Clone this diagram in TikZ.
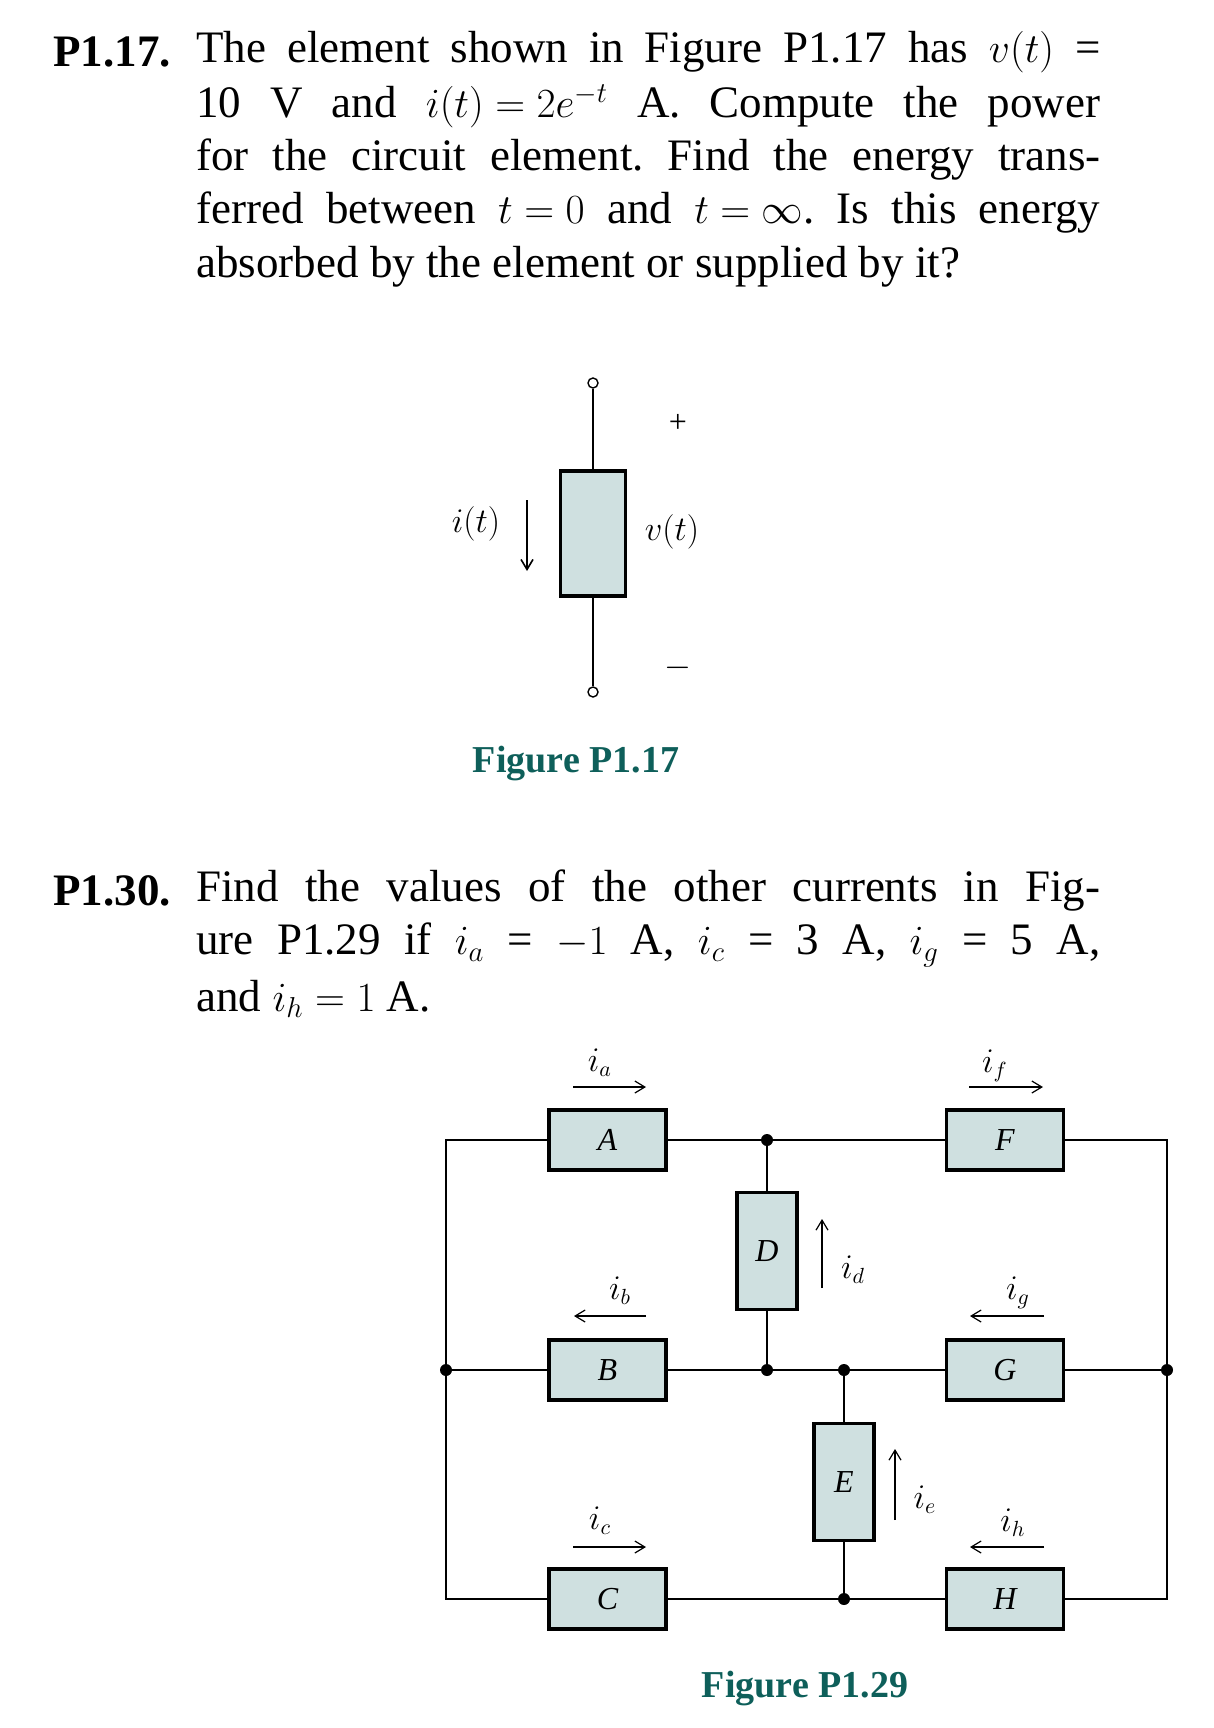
\documentclass[tikz,border=0pt]{standalone}
\usepackage{fontspec}
\setmainfont{Liberation Serif}
\usetikzlibrary{arrows.meta}
\definecolor{boxfill}{HTML}{CFE0E0}
\definecolor{capcol}{HTML}{0E5F5A}
\thickmuskip=5mu\relax
\medmuskip=4mu\relax
\frenchspacing
\begin{document}
\begin{tikzpicture}[x=0.5pt,y=-0.5pt,
  txt/.style={anchor=west,inner sep=0,font=\fontsize{22.5}{26}\selectfont},
  elem/.style={draw,line width=1.6pt,fill=boxfill,inner sep=0,font=\fontsize{16}{18}\selectfont\itshape},
  wire/.style={line width=0.7pt},
  dot/.style={circle,fill,inner sep=0,minimum size=6pt},
  term/.style={circle,draw,fill=white,inner sep=0,minimum size=5pt,line width=0.7pt},
  carr/.style={line width=0.6pt,-{Straight Barb[length=5pt,width=6pt]}},
  lab/.style={font=\fontsize{16}{18}\selectfont\itshape,inner sep=0},
  figcap/.style={font=\fontsize{19}{22}\selectfont\bfseries,text=capcol}]
\useasboundingbox (0,0) rectangle (1214,1728);
% ---- P1.17 text
\node[txt] (p17) at (53,52) {\textbf{P1.17.}};
\node[txt] (l1) at (196,52) {\makebox[452pt][s]{The element shown in Figure P1.17 has $v(t)$ =}};
\node[txt] (l2) at (196,106) {\makebox[452pt][s]{10 V and $i(t) = 2e^{-t}$ A. Compute the power}};
\node[txt] (l3) at (196,160) {\makebox[452pt][s]{for the circuit element. Find the energy trans-}};
\node[txt] (l4) at (196,213) {\makebox[452pt][s]{ferred between $t=0$ and $t=\infty$. Is this energy}};
\node[txt] (l5) at (196,267) {absorbed by the element or supplied by it?};
% ---- Figure P1.17
\node[term] (t1) at (593,383) {};
\node[term] (t2) at (593,692) {};
\node[draw,line width=1.6pt,fill=boxfill,minimum width=32.5pt,minimum height=62.5pt,inner sep=0] (el) at (593,533.5) {};
\draw[wire] (t1) -- (el.north);
\draw[wire] (el.south) -- (t2);
\node[lab,font=\fontsize{16}{18}\selectfont] (plus) at (678,423) {+};
\node[lab,font=\fontsize{16}{18}\selectfont] (minus) at (678,668) {$-$};
\node[lab] (vt) at (672,532) {$v(t)$};
\node[lab] (it) at (476,524) {$i(t)$};
\coordinate (ia1) at (527,500); \coordinate (ia2) at (527,571);
\draw[carr,line width=0.8pt] (ia1) -- (ia2);
\node[figcap] (cap1) at (576,764) {Figure P1.17};
% ---- P1.30 text
\node[txt] (p30) at (53,891) {\textbf{P1.30.}};
\node[txt] (m1) at (196,891) {\makebox[452pt][s]{Find the values of the other currents in Fig-}};
\node[txt] (m2) at (196,945) {\makebox[452pt][s]{ure P1.29 if $i_a$ = $-1$ A, $i_c$ = 3 A, $i_g$ = 5 A,}};
\node[txt] (m3) at (196,999) {and $i_h = 1$ A.};
% ---- Figure P1.29
\tikzset{hbox/.style={elem,minimum width=58.5pt,minimum height=30pt},
         vbox/.style={elem,minimum width=30pt,minimum height=58.5pt}}
\coordinate (TL) at (446,1140); \coordinate (TR) at (1167,1140);
\coordinate (BL) at (446,1599); \coordinate (BR) at (1167,1599);
\node[dot] (ML) at (446,1370) {};
\node[dot] (MR) at (1167,1370) {};
\node[dot] (nT) at (767,1140) {};
\node[dot] (nM1) at (767,1370) {};
\node[dot] (nM2) at (844,1370) {};
\node[dot] (nB) at (844,1599) {};
\node[hbox] (A) at (607.5,1140) {A};
\node[hbox] (F) at (1005,1140) {F};
\node[hbox] (B) at (607.5,1370) {B};
\node[hbox] (G) at (1005,1370) {G};
\node[hbox] (C) at (607.5,1599) {C};
\node[hbox] (H) at (1005,1599) {H};
\node[vbox] (D) at (767,1251) {D};
\node[vbox] (E) at (844,1482) {E};
\draw[wire] (A.west) -- (TL) -- (ML) -- (BL) -- (C.west);
\draw[wire] (F.east) -- (TR) -- (MR) -- (BR) -- (H.east);
\draw[wire] (A.east) -- (nT) -- (F.west);
\draw[wire] (ML) -- (B.west); \draw[wire] (B.east) -- (nM1) -- (nM2) -- (G.west);
\draw[wire] (G.east) -- (MR);
\draw[wire] (C.east) -- (nB) -- (H.west);
\draw[wire] (nT) -- (D.north); \draw[wire] (D.south) -- (nM1);
\draw[wire] (nM2) -- (E.north); \draw[wire] (E.south) -- (nB);
% current arrows
\coordinate (a1) at (573,1087); \coordinate (a2) at (646,1087);
\draw[carr] (a1) -- (a2); \node[lab] (la) at (600,1063) {$i_a$};
\coordinate (f1) at (969,1087); \coordinate (f2) at (1043,1087);
\draw[carr] (f1) -- (f2); \node[lab] (lf) at (995,1066) {$i_f$};
\coordinate (b1) at (646,1316); \coordinate (b2) at (574,1316);
\draw[carr] (b1) -- (b2); \node[lab] (lb) at (620,1291) {$i_b$};
\coordinate (g1) at (1044,1316); \coordinate (g2) at (970,1316);
\draw[carr] (g1) -- (g2); \node[lab] (lg) at (1018,1293) {$i_g$};
\coordinate (c1) at (573,1547); \coordinate (c2) at (646,1547);
\draw[carr] (c1) -- (c2); \node[lab] (lc) at (600,1521) {$i_c$};
\coordinate (h1) at (1044,1547); \coordinate (h2) at (970,1547);
\draw[carr] (h1) -- (h2); \node[lab] (lh) at (1013,1523) {$i_h$};
\coordinate (d1) at (822,1288); \coordinate (d2) at (822,1219);
\draw[carr] (d1) -- (d2); \node[lab] (ld) at (853,1270) {$i_d$};
\coordinate (e1) at (895,1520); \coordinate (e2) at (895,1449);
\draw[carr] (e1) -- (e2); \node[lab] (le) at (925,1500) {$i_e$};
\node[figcap] (cap2) at (805,1688) {Figure P1.29};
\end{tikzpicture}
\end{document}
